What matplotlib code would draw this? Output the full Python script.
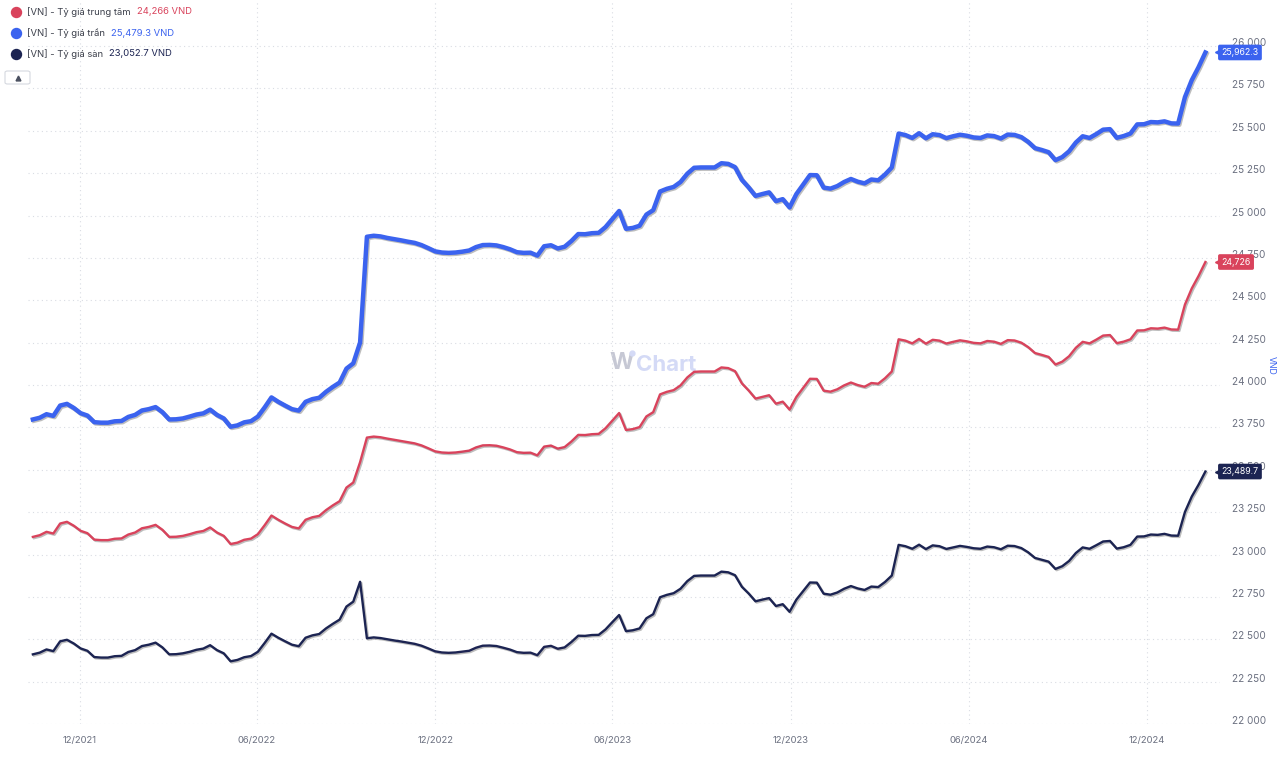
import matplotlib
matplotlib.use('Agg')
import matplotlib.pyplot as plt
import matplotlib.patheffects as pe
from matplotlib.lines import Line2D
from matplotlib.patches import FancyBboxPatch
from matplotlib.ticker import FuncFormatter
from matplotlib.transforms import ScaledTranslation, offset_copy
import pandas as pd

plt.rcParams['font.family'] = ['Inter', 'DejaVu Sans']

# weekly readings, VND per USD
start_date = '2021-10-14'
central = [
    23104, 23114, 23134, 23124, 23183, 23193, 23170, 23140, 23126, 23088,
    23085, 23085, 23093, 23095, 23118, 23130, 23155, 23163, 23175, 23146,
    23104, 23105, 23110, 23120, 23132, 23139, 23160, 23130, 23110, 23062,
    23070, 23087, 23094, 23120, 23173, 23230, 23205, 23183, 23163, 23154,
    23205, 23220, 23228, 23262, 23290, 23315, 23395, 23425, 23545, 23690,
    23696, 23692, 23684, 23677, 23670, 23663, 23656, 23644, 23627, 23609,
    23602, 23600, 23602, 23607, 23613, 23632, 23644, 23645, 23642, 23632,
    23620, 23604, 23600, 23601, 23585, 23637, 23643, 23625, 23634, 23667,
    23706, 23705, 23710, 23712, 23745, 23790, 23835, 23735, 23740, 23752,
    23815, 23840, 23945, 23960, 23970, 23998, 24045, 24078, 24080, 24080,
    24080, 24104, 24100, 24082, 24010, 23968, 23920, 23930, 23940, 23890,
    23902, 23855, 23930, 23984, 24037, 24036, 23967, 23961, 23975, 23998,
    24015, 24000, 23990, 24012, 24008, 24040, 24080, 24270, 24262, 24246,
    24272, 24244, 24267, 24262, 24245, 24255, 24264, 24258, 24249, 24246,
    24260, 24256, 24243, 24265, 24263, 24250, 24224, 24189, 24178, 24166,
    24121, 24138, 24170, 24220, 24255, 24246, 24268, 24292, 24295, 24247,
    24256, 24270, 24322, 24323, 24335, 24333, 24339, 24328, 24327, 24475,
    24570, 24644, 24726,
]
ceiling = [
    23797, 23807, 23828, 23818, 23879, 23889, 23865, 23834, 23820, 23781,
    23778, 23778, 23786, 23788, 23812, 23824, 23850, 23858, 23870, 23840,
    23797, 23798, 23803, 23814, 23826, 23833, 23855, 23824, 23803, 23754,
    23762, 23780, 23787, 23814, 23868, 23927, 23901, 23879, 23858, 23849,
    23901, 23917, 23925, 23960, 23989, 24015, 24097, 24128, 24251, 24875,
    24881, 24877, 24868, 24861, 24854, 24846, 24839, 24826, 24808, 24789,
    24782, 24780, 24782, 24787, 24794, 24814, 24826, 24827, 24824, 24814,
    24801, 24784, 24780, 24781, 24764, 24819, 24825, 24806, 24816, 24850,
    24891, 24890, 24896, 24898, 24932, 24980, 25027, 24922, 24927, 24940,
    25006, 25032, 25142, 25158, 25169, 25198, 25247, 25282, 25284, 25284,
    25284, 25309, 25305, 25286, 25211, 25166, 25116, 25127, 25137, 25085,
    25097, 25048, 25127, 25183, 25239, 25238, 25165, 25159, 25174, 25198,
    25216, 25200, 25190, 25213, 25208, 25242, 25284, 25484, 25475, 25458,
    25486, 25456, 25480, 25475, 25457, 25468, 25477, 25471, 25461, 25458,
    25473, 25469, 25455, 25478, 25476, 25463, 25435, 25398, 25387, 25374,
    25327, 25345, 25379, 25431, 25468, 25458, 25481, 25507, 25510, 25459,
    25469, 25484, 25538, 25539, 25552, 25550, 25556, 25544, 25543, 25699,
    25799, 25876, 25962.3,
]
floor = [
    22411, 22421, 22440, 22430, 22488, 22497, 22475, 22446, 22432, 22395,
    22392, 22392, 22400, 22402, 22425, 22436, 22460, 22468, 22480, 22452,
    22411, 22412, 22417, 22426, 22438, 22445, 22465, 22436, 22417, 22370,
    22378, 22394, 22401, 22426, 22478, 22533, 22509, 22488, 22468, 22459,
    22509, 22523, 22531, 22564, 22591, 22616, 22693, 22722, 22839, 22506,
    22511, 22507, 22500, 22493, 22487, 22480, 22473, 22462, 22446, 22429,
    22422, 22420, 22422, 22427, 22432, 22450, 22462, 22463, 22460, 22450,
    22439, 22424, 22420, 22421, 22406, 22455, 22461, 22444, 22452, 22484,
    22521, 22520, 22525, 22526, 22558, 22601, 22643, 22548, 22553, 22564,
    22624, 22648, 22748, 22762, 22772, 22798, 22843, 22874, 22876, 22876,
    22876, 22899, 22895, 22878, 22810, 22770, 22724, 22734, 22743, 22696,
    22707, 22662, 22734, 22785, 22835, 22834, 22769, 22763, 22776, 22798,
    22814, 22800, 22791, 22811, 22808, 22838, 22876, 23057, 23049, 23034,
    23058, 23032, 23054, 23049, 23033, 23042, 23051, 23045, 23037, 23034,
    23047, 23043, 23031, 23052, 23050, 23038, 23013, 22980, 22969, 22958,
    22915, 22931, 22962, 23009, 23042, 23034, 23055, 23077, 23080, 23035,
    23043, 23057, 23106, 23107, 23118, 23116, 23122, 23112, 23111, 23251,
    23342, 23412, 23489.7,
]

tick_dates = ['2021-12-01', '2022-06-01', '2022-12-01', '2023-06-01',
              '2023-12-01', '2024-06-01', '2024-12-01']
tick_labels = ['12/2021', '06/2022', '12/2022', '06/2023',
               '12/2023', '06/2024', '12/2024']
y_ticks = [22000, 22250, 22500, 22750, 23000, 23250, 23500, 23750, 24000,
           24250, 24500, 24750, 25000, 25250, 25500, 25750, 26000]

legend_names = ['[VN] - Tỷ giá trung tâm', '[VN] - Tỷ giá trần', '[VN] - Tỷ giá sàn']
legend_values = ['24,266 VND', '25,479.3 VND', '23,052.7 VND']

RED = '#d9435c'
BLUE = '#3b63ef'
NAVY = '#1c2452'
GRAY = '#6b7080'

W, H = 1280, 758
def fx(px):
    return px / W
def fy(py):
    return 1 - py / H

dates = pd.date_range(start_date, periods=len(central), freq='7D')

fig = plt.figure(figsize=(12.8, 7.58), dpi=100)
ax = fig.add_axes([fx(28), fy(724), (1220 - 28) / W, 724 / H])

shadow = [pe.SimpleLineShadow(offset=(0.9, -0.9), shadow_color='#444444', alpha=0.35), pe.Normal()]
series = [(ceiling, BLUE, 3.2), (central, RED, 1.7), (floor, NAVY, 1.7)]
for vals, col, lw in series:
    ax.plot(dates, vals, color=col, lw=lw, solid_joinstyle='round', path_effects=shadow, zorder=3)

ax.set_xlim(pd.Timestamp('2021-10-09'), pd.Timestamp('2025-02-14'))
ax.set_ylim(22000, 26272)
ax.set_xticks(pd.to_datetime(tick_dates))
ax.set_xticklabels(tick_labels)
ax.set_yticks(y_ticks)
ax.yaxis.set_major_formatter(FuncFormatter(lambda v, p: f'{int(v):,}'.replace(',', ' ')))
ax.yaxis.tick_right()
ax.tick_params(axis='y', length=0, pad=8.6, labelsize=7.2, labelcolor=GRAY)
ax.tick_params(axis='x', length=0, pad=8.5, labelsize=6.8, labelcolor=GRAY)
for lab in ax.get_yticklabels():
    lab.set_transform(lab.get_transform() + ScaledTranslation(0, 4 / 100, fig.dpi_scale_trans))
ax.grid(True, color='#d9dce3', linestyle=(0, (1, 3)), linewidth=0.8)
for s in ax.spines.values():
    s.set_visible(False)

# end-of-series tags (drawn over the tick labels, as in the app)
for vals, col, _ in series:
    last = vals[-1]
    ax.annotate(f'{last:,}', xy=(dates[-1], last), xytext=(16, 0), textcoords='offset pixels',
                ha='left', va='center', fontsize=6.3, color='white', annotation_clip=False,
                bbox=dict(boxstyle='round,pad=0.38,rounding_size=0.2', fc=col, ec='none'), zorder=5)
    ax.plot([dates[-1]], [last], marker='<', ms=5, color=col, clip_on=False, zorder=5,
            transform=offset_copy(ax.transData, fig=fig, x=13, y=0, units='dots'))

# watermark
ax.text((609 - 28) / 1192, (724 - 363) / 724, 'W', transform=ax.transAxes, fontsize=17,
        fontweight='bold', color='#c6c8d4', va='center', ha='left', zorder=1)
ax.text((636 - 28) / 1192, (724 - 365) / 724, 'Chart', transform=ax.transAxes, fontsize=16,
        fontweight='bold', color='#d4daf6', va='center', ha='left', zorder=1)
ax.plot([(632 - 28) / 1192], [(724 - 353) / 724], marker='o', ms=3.5, color='#d4daf6',
        transform=ax.transAxes, zorder=1)

# axis unit
fig.text(fx(1271), fy(365), 'VND', rotation=270, color=BLUE, fontsize=6.3, ha='center', va='center')

# legend
fig.canvas.draw()
renderer = fig.canvas.get_renderer()
for i, (name, val, col) in enumerate(zip(legend_names, legend_values, [RED, BLUE, NAVY])):
    y = fy(12 + 21 * i)
    fig.add_artist(Line2D([fx(16)], [y], marker='o', ms=7.2, color=col, transform=fig.transFigure))
    t = fig.text(fx(27), y, name, fontsize=6.8, color='#3b3f4a', va='center', ha='left')
    bb = t.get_window_extent(renderer)
    fig.text((bb.x1 + 6) / W, y, val, fontsize=6.8, color=col, va='center', ha='left')

# collapse button
fig.add_artist(FancyBboxPatch((fx(5), fy(84)), fx(25), 13 / H, boxstyle='round,pad=0,rounding_size=0.002',
                              fc='white', ec='#d5d8df', lw=0.8, transform=fig.transFigure))
fig.add_artist(Line2D([fx(17.5)], [fy(77.5)], marker='^', ms=3.5, color='#4a5060', transform=fig.transFigure))

# corner widget
fig.add_artist(Line2D([fx(1280)], [fy(772)], marker='o', ms=16, mfc='white', mec='#4a7cf7', mew=3,
                      transform=fig.transFigure))

fig.savefig('out.png', dpi=100)
